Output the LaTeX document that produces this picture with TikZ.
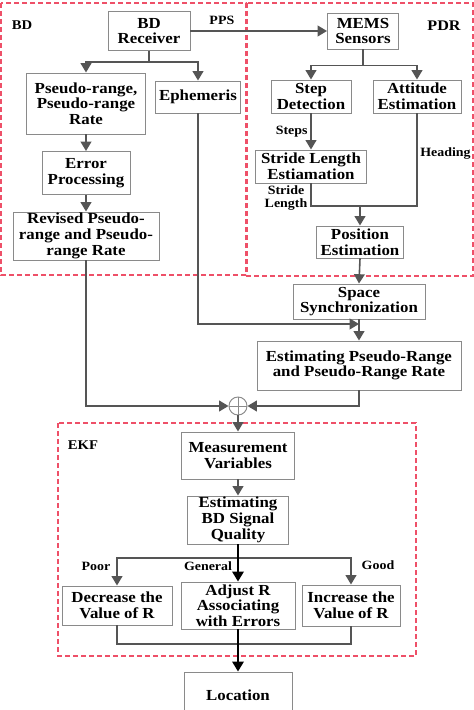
\documentclass[tikz,border=0pt]{standalone}
\usepackage{fontspec}
\setmainfont{Liberation Serif}[FakeStretch=1.1]
\usetikzlibrary{arrows.meta}
\definecolor{boxgray}{HTML}{8A8A8A}
\definecolor{linegray}{HTML}{555555}
\definecolor{zonered}{HTML}{EE5068}
\tikzset{
  blk/.style={draw=boxgray, line width=0.7pt, fill=white, align=center, inner sep=0pt,
    font=\bfseries\fontsize{11.5}{11.8}\selectfont},
  sz/.style 2 args={minimum width=#1*0.75pt, minimum height=#2*0.75pt},
  ln/.style={draw=linegray, line width=1.2pt},
  lnk/.style={ln, -{Triangle[length=7pt,width=8pt]}},
  mainlnk/.style={draw=black, line width=1.7pt, -{Triangle[length=7.5pt,width=8.5pt]}},
  zone/.style={draw=zonered, line width=0.85pt, dash pattern=on 4pt off 2pt},
  lbl/.style={inner sep=0pt, align=center, font=\bfseries\fontsize{9.5}{10}\selectfont},
  zonelbl/.style={inner sep=0pt, font=\bfseries\fontsize{10}{11}\selectfont}
}
\begin{document}
\begin{tikzpicture}[x=0.75pt,y=-0.75pt]
  \useasboundingbox (0,0) rectangle (474,710);
  \clip (0,0) rectangle (474,710);

  \draw[zone] (1,3) rectangle (246,275);
  \draw[zone] (247,3) rectangle (473,276);
  \draw[zone] (58,423) rectangle (416,656);
  \node[zonelbl] (bdlbl) at (22,25) {BD};
  \node[zonelbl, font=\bfseries\fontsize{11}{12}\selectfont] (pdrlbl) at (444,26) {PDR};
  \node[zonelbl] (ekflbl) at (83,445) {EKF};

  \node[blk, sz={82}{39}] (rcv) at (149,31) {BD\\Receiver};
  \node[blk, sz={71}{36}] (mems) at (363,31) {MEMS\\Sensors};
  \node[blk, sz={119}{61}] (pr) at (86,103.5) {Pseudo-range,\\Pseudo-range\\Rate};
  \node[blk, sz={85}{32}] (eph) at (198,97) {Ephemeris};
  \node[blk, sz={88}{43}] (err) at (86,173) {Error\\Processing};
  \node[blk, sz={146}{48}] (rev) at (86,236) {Revised Pseudo-\\range and Pseudo-\\range Rate};
  \node[blk, sz={80}{33}] (step) at (311,96.5) {Step\\Detection};
  \node[blk, sz={88}{33}] (att) at (417,96.5) {Attitude\\Estimation};
  \node[blk, sz={111}{33}] (stride) at (311,166.5) {Stride Length\\Estiamation};
  \node[blk, sz={87}{32}] (pos) at (360,242) {Position\\Estimation};
  \node[blk, sz={132}{35}] (sync) at (359,301.5) {Space\\Synchronization};
  \node[blk, sz={204}{49}] (est) at (359,365.5) {Estimating Pseudo-Range\\and Pseudo-Range Rate};
  \node[draw=boxgray, line width=0.7pt, circle, minimum size=18*0.75pt, inner sep=0pt] (sum) at (238,406) {};
  \node[blk, sz={113}{47}] (meas) at (238,455.5) {Measurement\\Variables};
  \node[blk, sz={101}{48}] (qual) at (238,520) {Estimating\\BD Signal\\Quality};
  \node[blk, sz={110}{39}] (dec) at (117,605.5) {Decrease the\\Value of R};
  \node[blk, sz={114}{47}] (adj) at (238,605.5) {Adjust R\\Associating\\with Errors};
  \node[blk, sz={98}{41}] (inc) at (351,605.5) {Increase the\\Value of R};
  \node[blk, sz={108}{46}] (loc) at (238,695) {Location};

  \draw[boxgray, line width=0.6pt] (sum.north) -- (sum.south) (sum.west) -- (sum.east);

  \coordinate (join) at (359,324);
  \coordinate (merge) at (360,206);
  \coordinate (split) at (238,558);
  \coordinate (gather) at (238,644);

  \draw[lnk] (rcv.east) -- (mems.west) node[lbl, pos=0.23, above=4pt] (pps) {PPS};
  \draw[lnk] (rcv.south) -- ++(0,11) -| (pr.north);
  \draw[lnk] (rcv.south) -- ++(0,11) -| (eph.north);
  \draw[lnk] (pr.south) -- (err.north);
  \draw[lnk] (err.south) -- (rev.north);
  \draw[lnk] (rev.south) |- (sum.west);
  \draw[lnk] (eph.south) |- (join);

  \draw[lnk] (mems.south) -- ++(0,16) -| (step.north);
  \draw[lnk] (mems.south) -- ++(0,16) -| (att.north);
  \draw[lnk] (step.south) -- (stride.north) node[lbl, midway, left=2pt] (steps) {Steps};
  \draw[ln] (stride.south) |- (merge);
  \draw[ln] (att.south) |- (merge);
  \node[lbl, anchor=west] (heading) at (420,154) {Heading};
  \node[lbl] (stridelen) at (286,198) {Stride\\Length};
  \draw[lnk] (merge) -- (pos.north);
  \draw[lnk] (pos.south) -- (sync.north);
  \draw[lnk] (sync.south) -- (est.north);
  \draw[lnk] (est.south) |- (sum.east);

  \draw[lnk] (sum.south) -- (meas.north);
  \draw[lnk] (meas.south) -- (qual.north);
  \draw[lnk] (split) -| (dec.north);
  \draw[lnk] (split) -| (inc.north);
  \draw[mainlnk] (qual.south) -- (adj.north);
  \node[lbl] (poor) at (96,566) {Poor};
  \node[lbl] (general) at (208,566) {General};
  \node[lbl] (good) at (378,565) {Good};
  \draw[ln] (dec.south) |- (gather);
  \draw[ln] (inc.south) |- (gather);
  \draw[mainlnk] (adj.south) -- (loc.north);
\end{tikzpicture}
\end{document}
